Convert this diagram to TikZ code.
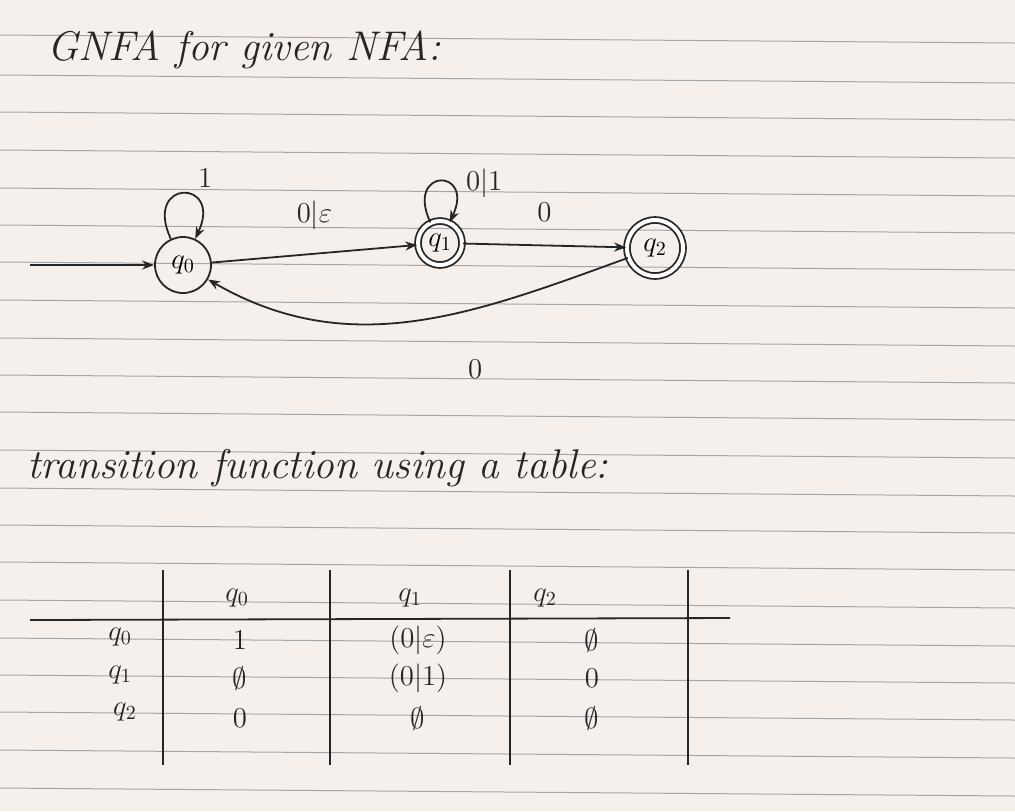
\documentclass[tikz,border=0pt]{standalone}
\usetikzlibrary{arrows.meta}
\begin{document}
\begin{tikzpicture}[x=0.5pt,y=-0.5pt,
  ink/.style={draw=black!85, line width=0.9pt},
  st/.style={circle, ink, minimum size=28pt, inner sep=0pt, font=\Large},
  acc/.style={st, double, double distance=2pt},
  lbl/.style={font=\Large, text=black!85},
  arr/.style={ink, -{Stealth[length=6pt]}},
  rule/.style={draw=black!35, line width=0.5pt}]
\useasboundingbox (0,0) rectangle (1015,811);
\fill[black!18!brown!10!white] (0,0) rectangle (1015,811);
\foreach \y in {35,75,112,150,188,225,262,300,338,375,412,450,488,525,562,600,638,675,712,750,788}
  \draw[rule] (0,\y) -- (1015,\y+8);
\node[lbl, anchor=west, font=\huge\itshape] (title) at (40,50) {GNFA for given NFA:};
\node[st] (q0) at (183,265) {$q_0$};
\node[acc, minimum size=22pt] (q1) at (440,243) {$q_1$};
\node[acc] (q2) at (655,248) {$q_2$};
\coordinate (s) at (30,265);
\draw[arr] (s) -- (q0);
\draw[arr] (q0) -- node[lbl, above=8pt] {$0|\varepsilon$} (q1);
\draw[arr] (q1) -- node[lbl, above=8pt] {$0$} (q2);
\draw[arr] (q2) to[out=200, in=-30] node[lbl, below=22pt, pos=0.35] {$0$} (q0);
\draw[arr] (q0) to[out=115, in=65, looseness=7] node[lbl, above right, pos=0.6] {$1$} (q0);
\draw[arr] (q1) to[out=115, in=65, looseness=8] node[lbl, right=6pt, pos=0.6] {$0|1$} (q1);
\node[lbl, anchor=west, font=\huge\itshape] (tt) at (20,468) {transition function using a table:};
\draw[ink] (163,570) -- (163,765);
\draw[ink] (330,570) -- (330,765);
\draw[ink] (510,570) -- (510,765);
\draw[ink] (688,570) -- (688,765);
\draw[ink] (30,620) -- (730,618);
\node[lbl] (h0) at (237,598) {$q_0$};
\node[lbl] (h1) at (410,598) {$q_1$};
\node[lbl] (h2) at (545,598) {$q_2$};
\node[lbl] (r0) at (120,637) {$q_0$};
\node[lbl] (r1) at (120,675) {$q_1$};
\node[lbl] (r2) at (125,712) {$q_2$};
\node[lbl] at (240,640) {$1$};
\node[lbl] at (418,640) {$(0|\varepsilon)$};
\node[lbl] at (592,640) {$\emptyset$};
\node[lbl] at (240,678) {$\emptyset$};
\node[lbl] at (418,678) {$(0|1)$};
\node[lbl] at (592,678) {$0$};
\node[lbl] at (240,718) {$0$};
\node[lbl] at (418,718) {$\emptyset$};
\node[lbl] at (592,718) {$\emptyset$};
\end{tikzpicture}
\end{document}
